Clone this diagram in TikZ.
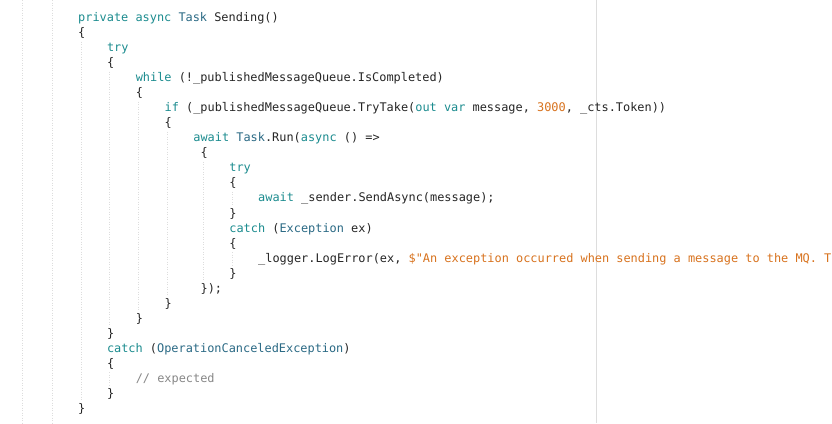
\documentclass[tikz,border=0pt]{standalone}
\usepackage{fontspec}
\setmonofont{DejaVu Sans Mono}
\definecolor{kwc}{HTML}{1C8C8F}
\definecolor{tyc}{HTML}{2B6A85}
\definecolor{stc}{HTML}{D8731F}
\definecolor{cmc}{HTML}{888888}
\definecolor{txc}{HTML}{262626}
\definecolor{guide}{HTML}{DDDDDD}
\newcommand{\kw}[1]{\textcolor{kwc}{#1}}
\newcommand{\ty}[1]{\textcolor{tyc}{#1}}
\newcommand{\stt}[1]{\textcolor{stc}{#1}}
\newcommand{\cmm}[1]{\textcolor{cmc}{#1}}
\begin{document}
\begin{tikzpicture}[x=1pt,y=-1pt,
  code/.style={anchor=base west,inner sep=0pt,font=\ttfamily\fontsize{11.9}{14}\selectfont,text=txc},
  gd/.style={draw=guide,line width=0.8pt,dash pattern=on 1pt off 1.5pt}]
\useasboundingbox (0,0) rectangle (832,423);
\fill[white] (0,0) rectangle (832,423);
\def\cx#1{78+#1*7.2}
\def\ly#1{21.5+#1*15.04}
% guides
\draw[gd] (22,0) -- (22,423);
\draw[gd] (52,0) -- (52,423);
\draw[gd] ({\cx{0}+3},{\ly{1}+5}) -- ({\cx{0}+3},{\ly{26}-12});
\draw[gd] ({\cx{4}+3},{\ly{3}+5}) -- ({\cx{4}+3},{\ly{21}-12});
\draw[gd] ({\cx{4}+3},{\ly{23}+5}) -- ({\cx{4}+3},{\ly{25}-12});
\draw[gd] ({\cx{8}+3},{\ly{5}+5}) -- ({\cx{8}+3},{\ly{20}-12});
\draw[gd] ({\cx{12}+3},{\ly{7}+5}) -- ({\cx{12}+3},{\ly{19}-12});
\draw[gd] ({\cx{17}+3},{\ly{9}+5}) -- ({\cx{17}+3},{\ly{18}-12});
\draw[gd] ({\cx{21}+3},{\ly{11}+5}) -- ({\cx{21}+3},{\ly{13}-12});
\draw[gd] ({\cx{21}+3},{\ly{15}+5}) -- ({\cx{21}+3},{\ly{17}-12});
\draw[draw=guide,line width=0.6pt] (596,0) -- (596,423);
\begin{scope}
\clip (0,0) rectangle (832,423);
\node[code] (l0) at ({\cx{0}},{\ly{0}}) {\kw{private} \kw{async} \ty{Task} Sending()};
\node[code] (l1) at ({\cx{0}},{\ly{1}}) {\{};
\node[code] (l2) at ({\cx{4}},{\ly{2}}) {\kw{try}};
\node[code] (l3) at ({\cx{4}},{\ly{3}}) {\{};
\node[code] (l4) at ({\cx{8}},{\ly{4}}) {\kw{while} (!\_publishedMessageQueue.IsCompleted)};
\node[code] (l5) at ({\cx{8}},{\ly{5}}) {\{};
\node[code] (l6) at ({\cx{12}},{\ly{6}}) {\kw{if} (\_publishedMessageQueue.TryTake(\kw{out} \kw{var} message, \stt{3000}, \_cts.Token))};
\node[code] (l7) at ({\cx{12}},{\ly{7}}) {\{};
\node[code] (l8) at ({\cx{16}},{\ly{8}}) {\kw{await} \ty{Task}.Run(\kw{async} () =>};
\node[code] (l9) at ({\cx{17}},{\ly{9}}) {\{};
\node[code] (l10) at ({\cx{21}},{\ly{10}}) {\kw{try}};
\node[code] (l11) at ({\cx{21}},{\ly{11}}) {\{};
\node[code] (l12) at ({\cx{25}},{\ly{12}}) {\kw{await} \_sender.SendAsync(message);};
\node[code] (l13) at ({\cx{21}},{\ly{13}}) {\}};
\node[code] (l14) at ({\cx{21}},{\ly{14}}) {\kw{catch} (\ty{Exception} ex)};
\node[code] (l15) at ({\cx{21}},{\ly{15}}) {\{};
\node[code] (l16) at ({\cx{25}},{\ly{16}}) {\_logger.LogError(ex, \stt{\$"An exception occurred when sending a message to the MQ. Topic}};
\node[code] (l17) at ({\cx{21}},{\ly{17}}) {\}};
\node[code] (l18) at ({\cx{17}},{\ly{18}}) {\});};
\node[code] (l19) at ({\cx{12}},{\ly{19}}) {\}};
\node[code] (l20) at ({\cx{8}},{\ly{20}}) {\}};
\node[code] (l21) at ({\cx{4}},{\ly{21}}) {\}};
\node[code] (l22) at ({\cx{4}},{\ly{22}}) {\kw{catch} (\ty{OperationCanceledException})};
\node[code] (l23) at ({\cx{4}},{\ly{23}}) {\{};
\node[code] (l24) at ({\cx{8}},{\ly{24}}) {\cmm{// expected}};
\node[code] (l25) at ({\cx{4}},{\ly{25}}) {\}};
\node[code] (l26) at ({\cx{0}},{\ly{26}}) {\}};
\end{scope}
\end{tikzpicture}
\end{document}
